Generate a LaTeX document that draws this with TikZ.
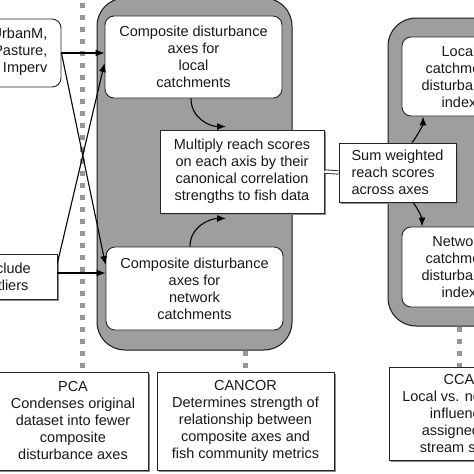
\documentclass[tikz,border=0pt]{standalone}
\usepackage{fontspec}
\setmainfont{Liberation Sans}
\usetikzlibrary{arrows.meta,shadows,calc}
\definecolor{cgray}{RGB}{158,158,158}
\definecolor{dgray}{RGB}{150,150,150}
\begin{document}
\begin{tikzpicture}[x=1pt,y=-1pt,
  every node/.style={font=\fontsize{14.5}{17}\selectfont, text=black!90, inner sep=0pt},
  cont/.style={draw=black!90, line width=1pt, fill=cgray, rounded corners=28pt},
  rbox/.style={draw=black!85, line width=0.9pt, fill=white, rounded corners=9pt, align=center},
  sbox/.style={draw=black!85, line width=0.9pt, fill=white, align=center,
    drop shadow={shadow xshift=2pt, shadow yshift=-2pt, fill=black!45, opacity=1}},
  arr/.style={draw=black, line width=1.1pt, -{Latex[length=9pt,width=7pt]}},
  dots/.style={draw=dgray, line width=5pt, dash pattern=on 5pt off 7pt},
]
\useasboundingbox (0,0) rectangle (474,474);
\clip (0,0) rectangle (474,474);
\fill[white] (0,0) rectangle (474,474);

% containers
\node[cont, minimum width=195pt, minimum height=352pt] (contA) at (194.5,174) {};
\node[cont, minimum width=142pt, minimum height=308pt] (contB) at (459,172) {};

% bottom boxes
\node[sbox, minimum width=150pt, minimum height=98pt] (pca) at (73,421)
  {PCA\\Condenses original\\dataset into fewer\\composite\\disturbance axes};
\node[sbox, minimum width=177pt, minimum height=98pt] (cancor) at (245.5,421)
  {CANCOR\\Determines strength of\\relationship between\\composite axes and\\fish community metrics};
\node[sbox, minimum width=140pt, minimum height=93pt] (cca) at (459,413.5)
  {CCA\\Local vs. network\\influence\\assigned to\\stream sites};

% dotted separators
\coordinate (dtop) at (82,3);
\draw[dots] (dtop) -- (dtop |- pca.north);
\draw[dots] (cancor.north |- contA.south) -- (cancor.north);
\draw[dots] (contB.south) -- (cca.north);

% left inputs
\node[rbox, minimum width=82pt, minimum height=68pt] (box1) at (20,53) {};
\node[anchor=east, align=right] (box1t) at (47.5,52) {UrbanM,\\Pasture,\\Imperv};
\node[sbox, minimum width=104pt, minimum height=45pt] (box2) at (5,276.5)
  {Exclude\\outliers};

% PCA outputs
\node[rbox, minimum width=177pt, minimum height=82pt] (localbox) at (193.5,57)
  {Composite disturbance\\axes for\\local\\catchments};
\node[rbox, minimum width=177pt, minimum height=83pt] (netbox) at (194.5,288.5)
  {Composite disturbance\\axes for\\network\\catchments};

% CANCOR step
\node[sbox, minimum width=164pt, minimum height=83pt] (multbox) at (242,171.5)
  {Multiply reach scores\\on each axis by their\\canonical correlation\\strengths to fish data};

% Sum step
\node[sbox, align=left, minimum width=117pt, minimum height=59pt] (sumbox) at (397.5,172.5)
  {Sum weighted\\reach scores\\across axes};

% indices
\node[rbox, minimum width=114pt, minimum height=79pt] (loc2) at (459,76.5)
  {Local\\catchment\\disturbance\\index};
\node[rbox, minimum width=114pt, minimum height=80pt] (net2) at (459,267)
  {Network\\catchment\\disturbance\\index};

% crossing input arrows
\draw[arr] (box1.east) -- (box1.east -| localbox.west);
\draw[arr] (box1.east) -- ([yshift=23.5pt]netbox.west);
\draw[arr] ([yshift=13.5pt]box2.east) -- ([yshift=-6pt]localbox.west);
\draw[arr] ([yshift=3.5pt]box2.east) -- ([yshift=3.5pt]box2.east -| netbox.west);

% curved arrows into multiply box
\coordinate (m1) at ([xshift=-16pt,yshift=3pt]multbox.north);
\coordinate (m2) at ([xshift=-16pt,yshift=-5pt]multbox.south);
\draw[arr] ([xshift=-2.5pt]localbox.south) .. controls +(0,20) and +(-16,0) .. (m1);
\draw[arr] ([xshift=-4.5pt]netbox.north) .. controls +(0,-20) and +(-16,0) .. (m2);

% double connector
\draw[draw=black!85, line width=0.9pt, double=white, double distance=2.5pt] (multbox.east) -- (sumbox.west);

% arrows to indices
\draw[arr] ([xshift=14.5pt]sumbox.north) .. controls +(5,-6) and +(0,8) .. ([xshift=-36pt]loc2.south);
\draw[arr] ([xshift=15.5pt]sumbox.south) .. controls +(5,6) and +(0,-8) .. ([xshift=-37pt]net2.north);
\end{tikzpicture}
\end{document}
